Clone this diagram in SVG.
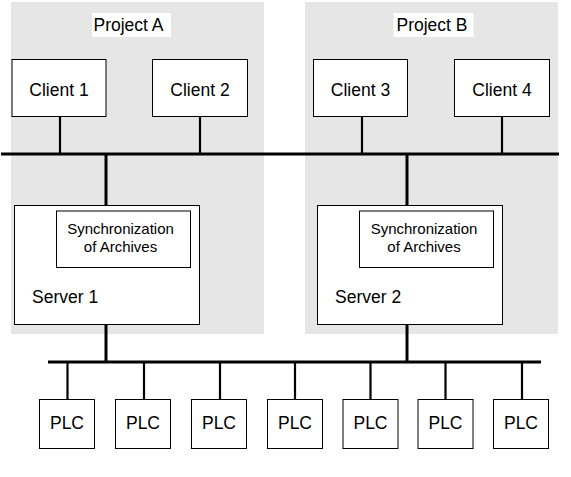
<svg xmlns="http://www.w3.org/2000/svg" width="571" height="477" viewBox="0 0 571 477">
<style>
.bg{fill:#e6e6e6;stroke:none}
.box{fill:#ffffff;stroke:#000000;stroke-width:1}
.t{font-family:"Liberation Sans",Arial,sans-serif;font-size:17.5px;fill:#000000;text-anchor:middle}
.ts{font-family:"Liberation Sans",Arial,sans-serif;font-size:15px;fill:#000000;text-anchor:middle}
.bus{stroke:#000000;stroke-width:3;fill:none}
.ln{stroke:#000000;stroke-width:2.2;fill:none}
.lnk{stroke:#000000;stroke-width:3;fill:none}
</style>
<rect width="571" height="477" fill="#ffffff"/>
<g id="projectA">
<rect class="bg" x="11" y="2" width="253" height="332"/>
<rect x="92" y="13" width="79" height="24" fill="#ffffff"/>
<text class="t" x="128.5" y="31">Project A</text>
</g>
<g id="projectB">
<rect class="bg" x="305" y="2" width="253" height="332"/>
<rect x="393.5" y="13" width="80" height="24" fill="#ffffff"/>
<text class="t" x="432" y="31">Project B</text>
</g>
<g id="connectors">
<line class="bus" x1="1" y1="154" x2="559" y2="154"/>
<line class="ln" x1="60" y1="116" x2="60" y2="154"/>
<line class="ln" x1="200" y1="116" x2="200" y2="154"/>
<line class="ln" x1="362" y1="116" x2="362" y2="154"/>
<line class="ln" x1="502" y1="116" x2="502" y2="154"/>
<line class="lnk" x1="106" y1="154" x2="106" y2="205"/>
<line class="lnk" x1="407" y1="154" x2="407" y2="205"/>
<line class="lnk" x1="106" y1="324" x2="106" y2="362"/>
<line class="lnk" x1="407" y1="324" x2="407" y2="362"/>
<line class="bus" x1="48" y1="362" x2="541" y2="362"/>
<line class="ln" x1="67.5" y1="362" x2="67.5" y2="399"/>
<line class="ln" x1="144" y1="362" x2="144" y2="399"/>
<line class="ln" x1="220" y1="362" x2="220" y2="399"/>
<line class="ln" x1="295" y1="362" x2="295" y2="399"/>
<line class="ln" x1="370.5" y1="362" x2="370.5" y2="399"/>
<line class="ln" x1="445.5" y1="362" x2="445.5" y2="399"/>
<line class="ln" x1="522" y1="362" x2="522" y2="399"/>
</g>
<g id="client1"><rect class="box" x="12" y="59.5" width="94" height="57"/><text class="t" x="59" y="95.5">Client 1</text></g>
<g id="client2"><rect class="box" x="152.5" y="59.5" width="95" height="57"/><text class="t" x="200" y="95.5">Client 2</text></g>
<g id="client3"><rect class="box" x="313.5" y="59.5" width="94" height="57"/><text class="t" x="360.5" y="95.5">Client 3</text></g>
<g id="client4"><rect class="box" x="454.5" y="59.5" width="95" height="57"/><text class="t" x="502" y="95.5">Client 4</text></g>
<g id="server1">
<rect class="box" x="14.5" y="205.5" width="185" height="119"/>
<rect class="box" x="56.5" y="211" width="134" height="56.5"/>
<text class="ts" x="120.5" y="234">Synchronization</text>
<text class="ts" x="120.5" y="252">of Archives</text>
<text class="t" x="32" y="302.5" style="text-anchor:start">Server 1</text>
</g>
<g id="server2">
<rect class="box" x="317.5" y="205.5" width="185" height="119"/>
<rect class="box" x="359.5" y="211" width="134" height="56.5"/>
<text class="ts" x="424" y="234">Synchronization</text>
<text class="ts" x="424" y="252">of Archives</text>
<text class="t" x="335" y="302.5" style="text-anchor:start">Server 2</text>
</g>
<g id="plc1"><rect class="box" x="39.5" y="399.5" width="55" height="49"/><text class="t" x="67" y="429">PLC</text></g>
<g id="plc2"><rect class="box" x="115.5" y="399.5" width="55" height="49"/><text class="t" x="143" y="429">PLC</text></g>
<g id="plc3"><rect class="box" x="191.5" y="399.5" width="55" height="49"/><text class="t" x="219" y="429">PLC</text></g>
<g id="plc4"><rect class="box" x="267.5" y="399.5" width="55" height="49"/><text class="t" x="295" y="429">PLC</text></g>
<g id="plc5"><rect class="box" x="343" y="399.5" width="55" height="49"/><text class="t" x="370.5" y="429">PLC</text></g>
<g id="plc6"><rect class="box" x="418" y="399.5" width="55" height="49"/><text class="t" x="445.5" y="429">PLC</text></g>
<g id="plc7"><rect class="box" x="493.5" y="399.5" width="55" height="49"/><text class="t" x="521" y="429">PLC</text></g>
</svg>
